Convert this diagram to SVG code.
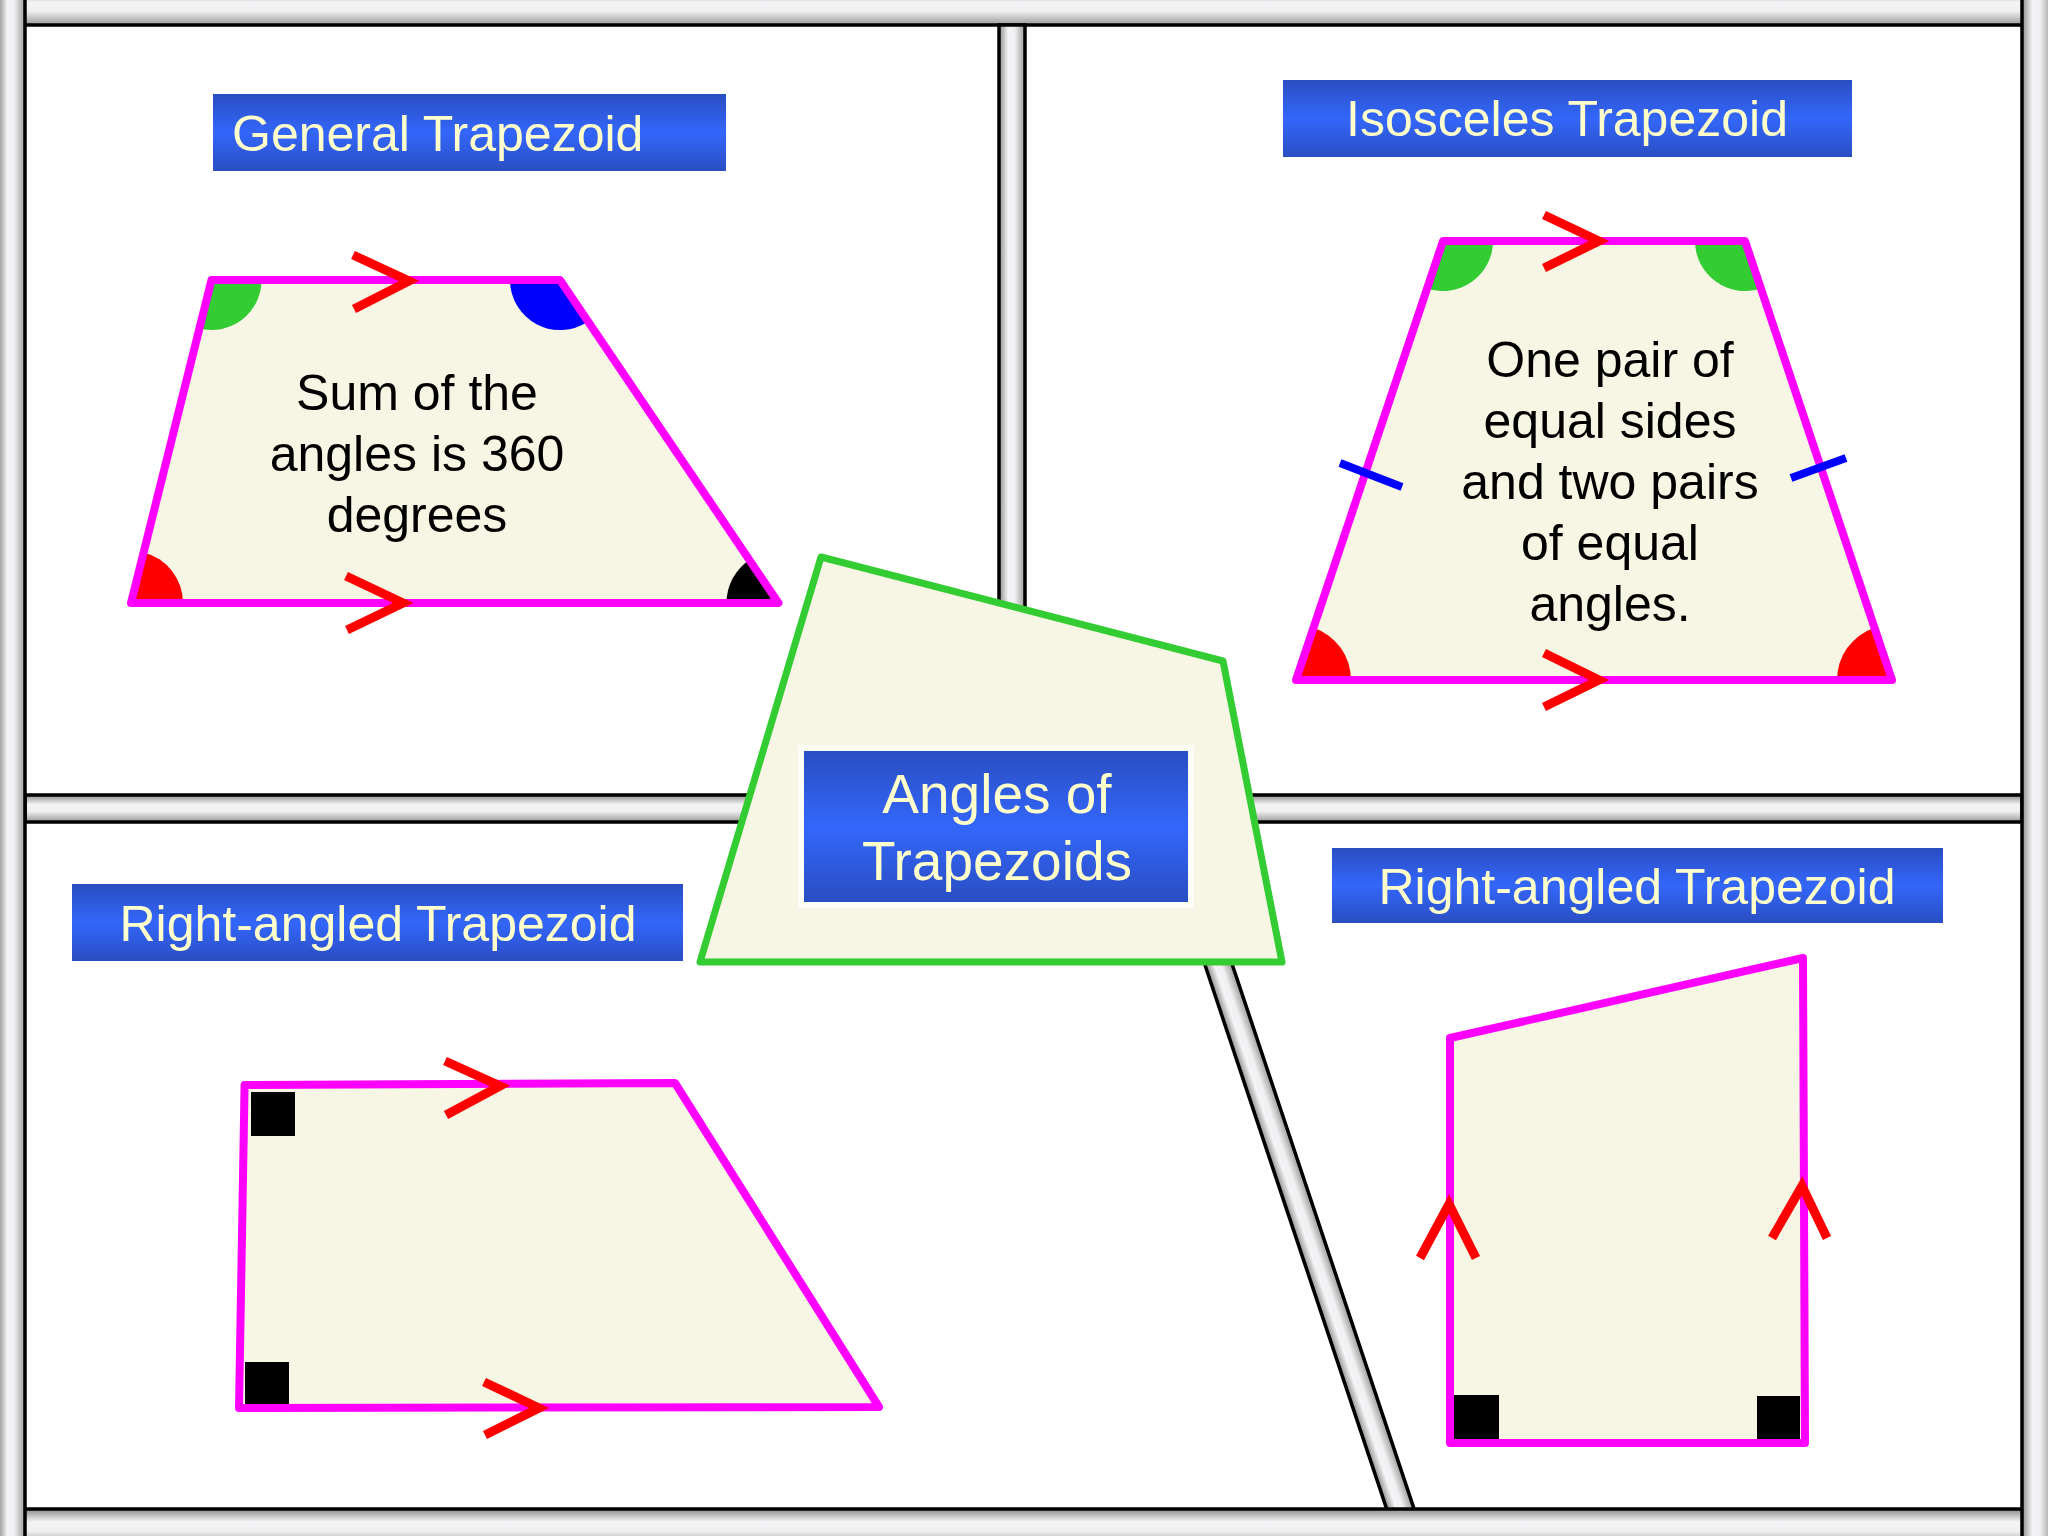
<svg xmlns="http://www.w3.org/2000/svg" width="2048" height="1536" viewBox="0 0 2048 1536">
<defs>
<linearGradient id="tubeH" x1="0" y1="0" x2="0" y2="1">
<stop offset="0" stop-color="#8c8c8c"/><stop offset="0.35" stop-color="#f4f4f6"/><stop offset="0.6" stop-color="#f0f0f2"/><stop offset="1" stop-color="#9a9a9a"/>
</linearGradient>
<linearGradient id="tubeV" x1="0" y1="0" x2="1" y2="0">
<stop offset="0" stop-color="#8c8c8c"/><stop offset="0.35" stop-color="#f4f4f6"/><stop offset="0.6" stop-color="#f0f0f2"/><stop offset="1" stop-color="#9a9a9a"/>
</linearGradient>
<linearGradient id="blue" x1="0" y1="0" x2="0" y2="1">
<stop offset="0" stop-color="#2a4ec2"/><stop offset="0.5" stop-color="#3366fa"/><stop offset="1" stop-color="#2a4ec2"/>
</linearGradient>
<style>
.tube{stroke:#000;stroke-width:3.5}
.lbl{fill:url(#blue)}
.halo{fill:#ffffff;opacity:0.75}
.lt{font-family:"Liberation Sans",Arial,sans-serif;font-size:50px;fill:#ffffcc}
.bt{font-family:"Liberation Sans",Arial,sans-serif;font-size:50px;fill:#000;text-anchor:middle}
.fill{fill:#f7f5e3;stroke:none}
.edge{fill:none;stroke:#ff00ff;stroke-width:8;stroke-linejoin:round}
.chev{fill:none;stroke:#ff0000;stroke-width:9;stroke-linejoin:miter}
.tick{stroke:#0000ff;stroke-width:8}
</style>
</defs>
<rect x="0" y="0" width="2048" height="1536" fill="#ffffff"/>

<g id="frame">
<rect class="tube" x="-5" y="-10" width="2058" height="35" fill="url(#tubeH)"/>
<rect class="tube" x="25" y="795" width="1997" height="27" fill="url(#tubeH)"/>
<rect class="tube" x="999" y="25" width="26" height="770" fill="url(#tubeV)"/>
<rect class="tube" x="-13" y="0" width="26" height="740" fill="url(#tubeV)" transform="translate(1169.6,818) rotate(-18.47)"/>
<rect class="tube" x="-5" y="1509" width="2058" height="37" fill="url(#tubeH)"/>
<rect class="tube" x="-2" y="-10" width="27" height="1560" fill="url(#tubeV)"/>
<rect class="tube" x="2022" y="-10" width="30" height="1560" fill="url(#tubeV)"/>
</g>

<g id="general-trapezoid">
<rect class="lbl" x="213" y="94" width="513" height="77"/>
<text class="lt" x="232" y="151">General Trapezoid</text>
<polygon class="fill" points="211.5,280 560,280 778.5,603 131,603"/>
<path d="M211.5 280 L261.5 280 A50 50 0 0 1 199.4 328.5 Z" fill="#33cc33"/>
<path d="M560 280 L588 321.4 A50 50 0 0 1 510 280 Z" fill="#0000ff"/>
<path d="M131 603 L143.6 552.5 A52 52 0 0 1 183 603 Z" fill="#ff0000"/>
<path d="M778.5 603 L726.5 603 A52 52 0 0 1 749.4 559.9 Z" fill="#000000"/>
<polygon class="edge" points="211.5,280 560,280 778.5,603 131,603"/>
<polyline class="chev" points="353,255 409,281 354,309"/>
<polyline class="chev" points="346,576 403,603 347,630"/>
<text class="bt" x="417" y="410">Sum of the</text>
<text class="bt" x="417" y="471">angles is 360</text>
<text class="bt" x="417" y="532">degrees</text>
</g>

<g id="isosceles-trapezoid">
<rect class="lbl" x="1283" y="80" width="569" height="77"/>
<text class="lt" x="1567" y="136" text-anchor="middle">Isosceles Trapezoid</text>
<polygon class="fill" points="1443,241 1745,241 1892,680 1296,680"/>
<path d="M1443 241 L1493 241 A50 50 0 0 1 1427.1 288.4 Z" fill="#33cc33"/>
<path d="M1745 241 L1760.9 288.4 A50 50 0 0 1 1695 241 Z" fill="#33cc33"/>
<path d="M1296 680 L1313.5 627.8 A55 55 0 0 1 1351 680 Z" fill="#ff0000"/>
<path d="M1892 680 L1837 680 A55 55 0 0 1 1874.5 627.8 Z" fill="#ff0000"/>
<polygon class="edge" points="1443,241 1745,241 1892,680 1296,680"/>
<polyline class="chev" points="1544,215 1599,241 1544,268"/>
<polyline class="chev" points="1544,653 1599,680 1544,707"/>
<line class="tick" x1="1340" y1="463" x2="1402" y2="487"/>
<line class="tick" x1="1791" y1="478" x2="1846" y2="458"/>
<text class="bt" x="1610" y="377">One pair of</text>
<text class="bt" x="1610" y="438">equal sides</text>
<text class="bt" x="1610" y="499">and two pairs</text>
<text class="bt" x="1610" y="560">of equal</text>
<text class="bt" x="1610" y="621">angles.</text>
</g>

<g id="right-trapezoid-left">
<rect class="lbl" x="72" y="884" width="611" height="77"/>
<text class="lt" x="378" y="941" text-anchor="middle">Right-angled Trapezoid</text>
<polygon class="fill" points="244.6,1085 675,1083 879,1407 239,1408"/>
<rect x="251" y="1092" width="44" height="44" fill="#000"/>
<rect x="245" y="1362" width="44" height="43" fill="#000"/>
<polygon class="edge" points="244.6,1085 675,1083 879,1407 239,1408"/>
<polyline class="chev" points="445,1061 500,1086 446,1115"/>
<polyline class="chev" points="484,1382 539,1408 485,1435"/>
</g>

<g id="right-trapezoid-right">
<rect class="lbl" x="1332" y="848" width="611" height="75"/>
<text class="lt" x="1637" y="904" text-anchor="middle">Right-angled Trapezoid</text>
<polygon class="fill" points="1450,1038 1803,958 1805,1443 1450,1443"/>
<rect x="1454" y="1395" width="45" height="44" fill="#000"/>
<rect x="1757" y="1396" width="43" height="43" fill="#000"/>
<polygon class="edge" points="1450,1038 1803,958 1805,1443 1450,1443"/>
<polyline class="chev" points="1420,1258 1449,1204 1476,1258"/>
<polyline class="chev" points="1772,1238 1802,1186 1827,1238"/>
</g>

<g id="center-title">
<polygon points="821,557 1223,661 1282,962 700,962" fill="#f7f5e3" stroke="#33cc33" stroke-width="7" stroke-linejoin="round"/>
<rect class="halo" x="798" y="745" width="396" height="163"/>
<rect class="lbl" x="804" y="751" width="384" height="151"/>
<text class="lt" x="997" y="813" text-anchor="middle" style="font-size:55px">Angles of</text>
<text class="lt" x="997" y="880" text-anchor="middle" style="font-size:55px">Trapezoids</text>
</g>
</svg>
